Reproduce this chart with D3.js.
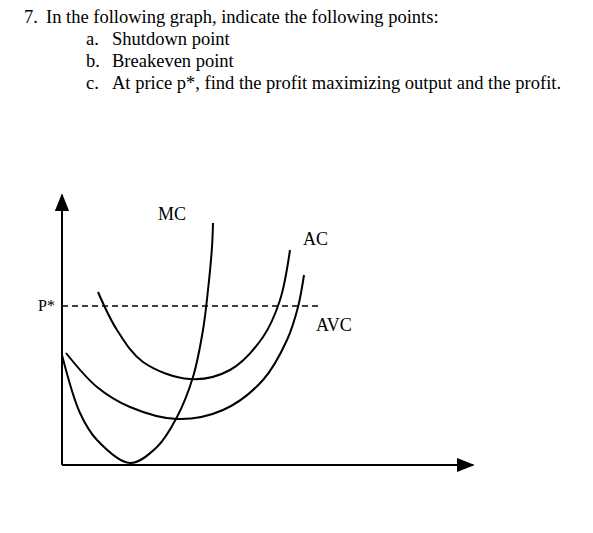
<!DOCTYPE html>
<html><head><meta charset="utf-8">
<script src="https://cdn.jsdelivr.net/npm/d3@7"></script>
<style>body{margin:0;background:#fff}text{font-family:"Liberation Serif","Times New Roman",serif;fill:#000}</style>
</head><body><div id="chart"></div>
<script>
// curve points (output, cost units)
var mcPoints = [[0,110],[18,52],[35,25],[68,2],[95,18],[115,48],[131,88],[141,135],[146,175],[150,218],[151,242]];
var acPoints = [[36,173],[55,135],[81,103],[128,86],[168,95],[201,128],[218,165],[228,215]];
var avcPoints = [[4,112],[35,78],[68,58],[115,46],[161,55],[201,85],[225,125],[236,158],[242,190]];
var priceStar = 159;
var curveLabels = [["MC",96,245],["AC",241,220],["AVC",254,134]];
var questions = [["7.","In the following graph, indicate the following points:"],
	["a.","Shutdown point"],["b.","Breakeven point"],
	["c.","At price p*, find the profit maximizing output and the profit."]];

var svg = d3.select("#chart").append("svg").attr("width",593).attr("height",533);
var x = d3.scaleLinear().domain([0,411]).range([62,473]);
var y = d3.scaleLinear().domain([0,270]).range([465,195]);

questions.forEach(function(q,i){
	svg.append("text").attr("x", i==0 ? 24 : 86).attr("y", 23 + i*22).attr("font-size",18.5).text(q[0]);
	svg.append("text").attr("x", i==0 ? 46 : 112).attr("y", 23 + i*22).attr("font-size",18.5).text(q[1]);
});

var defs = svg.append("defs");
defs.append("marker").attr("id","arr").attr("viewBox","0 0 10 10").attr("refX",9).attr("refY",5)
	.attr("markerWidth",9).attr("markerHeight",9).attr("orient","auto")
	.append("path").attr("d","M0,1L10,5L0,9Z").attr("fill","#000");

svg.append("line").attr("x1",x(0)).attr("y1",y(0)).attr("x2",x(0)).attr("y2",y(270))
	.attr("stroke","#000").attr("stroke-width",2).attr("marker-end","url(#arr)");
svg.append("line").attr("x1",x(0)).attr("y1",y(0)).attr("x2",x(411)).attr("y2",y(0))
	.attr("stroke","#000").attr("stroke-width",2).attr("marker-end","url(#arr)");

svg.append("line").attr("x1",x(0)).attr("x2",x(256)).attr("y1",y(priceStar)).attr("y2",y(priceStar))
	.attr("stroke","#000").attr("stroke-width",1.3).attr("stroke-dasharray","6,4");
svg.append("text").attr("x",x(0)-24).attr("y",y(priceStar)+5).attr("font-size",16).text("P*");

var line = d3.line().x(function(d){return x(d[0]);}).y(function(d){return y(d[1]);}).curve(d3.curveCatmullRom);
[mcPoints, acPoints, avcPoints].forEach(function(p){
	svg.append("path").attr("d", line(p)).attr("fill","none").attr("stroke","#000").attr("stroke-width",2);
});
curveLabels.forEach(function(l){
	svg.append("text").attr("x",x(l[1])).attr("y",y(l[2])).attr("font-size",18).text(l[0]);
});
</script></body></html>
